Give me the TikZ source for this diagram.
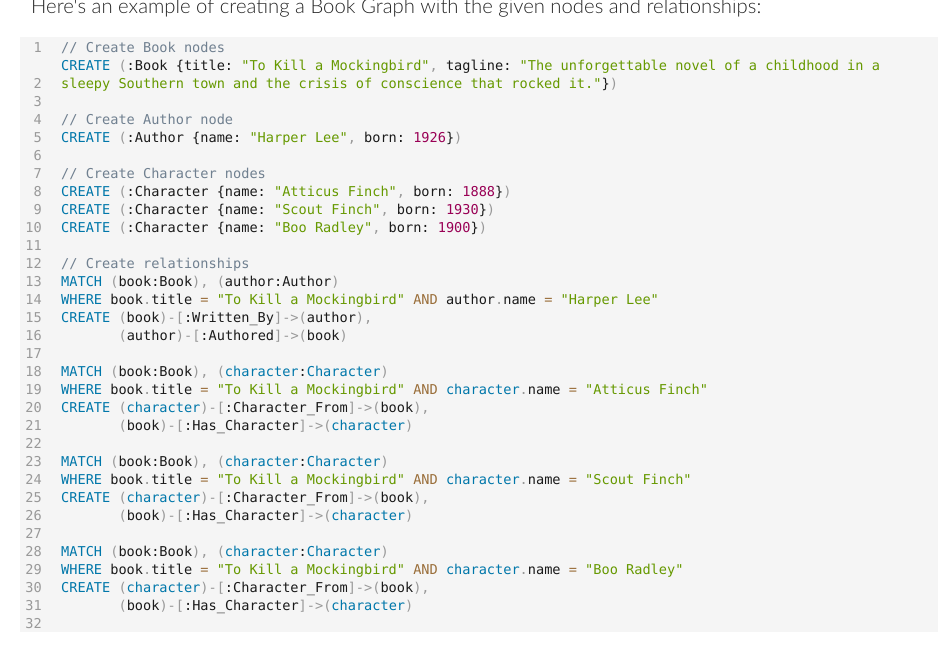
\documentclass[tikz,border=0pt]{standalone}
\usepackage{fontspec}
\setmonofont{DejaVu Sans Mono}
\newfontfamily\titlefont{Lato Light}
\definecolor{kw}{HTML}{0077AA}
\definecolor{cm}{HTML}{708090}
\definecolor{st}{HTML}{669900}
\definecolor{nm}{HTML}{990055}
\definecolor{pn}{HTML}{999999}
\definecolor{op}{HTML}{9A6E3A}
\definecolor{tx}{HTML}{1A1A1A}
\definecolor{ln}{HTML}{999999}
\definecolor{bgc}{HTML}{F5F5F5}
\newcommand\K[1]{\textcolor{kw}{#1}}
\newcommand\Cm[1]{\textcolor{cm}{#1}}
\newcommand\St[1]{\textcolor{st}{#1}}
\newcommand\Nm[1]{\textcolor{nm}{#1}}
\newcommand\Pn[1]{\textcolor{pn}{#1}}
\newcommand\Op[1]{\textcolor{op}{#1}}
\begin{document}
\begin{tikzpicture}[x=1pt,y=-1pt,
  code/.style={anchor=mid west,inner sep=0pt,font=\ttfamily\fontsize{13.6}{16}\selectfont,text=tx},
  lnum/.style={anchor=mid east,inner sep=0pt,font=\ttfamily\fontsize{13.6}{16}\selectfont,text=ln}]
\useasboundingbox (0,0) rectangle (938,657);
\fill[bgc] (20,37) rectangle (938,632);
\node[anchor=base west,inner sep=0pt,text=black!85,font=\titlefont\fontsize{20.3}{22}\selectfont] (title) at (31,13) {Here's an example of creating a Book Graph with the given nodes and relationships:};
\begin{scope}[yshift=-3pt]
\foreach \n/\y in {1/47,2/83,3/101,4/119,5/137,6/155,7/173,8/191,9/209,10/227,11/245,12/263,13/281,14/299,15/317,16/335,17/353,18/371,19/389,20/407,21/425,22/443,23/461,24/479,25/497,26/515,27/533,28/551,29/569,30/587,31/605,32/623}
  \node[lnum] (n\n) at (42,\y) {\n};
\node[code] (c1) at (61,47) {\Cm{// Create Book nodes}};
\node[code] (c1b) at (61,65) {\K{CREATE} \Pn{(}:Book \{title: \St{"To Kill a Mockingbird"}\Pn{,} tagline: \St{"The unforgettable novel of a childhood in a}};
\node[code] (c2) at (61,83) {\St{sleepy Southern town and the crisis of conscience that rocked it."}\}\Pn{)}};
\node[code] (c4) at (61,119) {\Cm{// Create Author node}};
\node[code] (c5) at (61,137) {\K{CREATE} \Pn{(}:Author \{name: \St{"Harper Lee"}\Pn{,} born: \Nm{1926}\}\Pn{)}};
\node[code] (c7) at (61,173) {\Cm{// Create Character nodes}};
\node[code] (c8) at (61,191) {\K{CREATE} \Pn{(}:Character \{name: \St{"Atticus Finch"}\Pn{,} born: \Nm{1888}\}\Pn{)}};
\node[code] (c9) at (61,209) {\K{CREATE} \Pn{(}:Character \{name: \St{"Scout Finch"}\Pn{,} born: \Nm{1930}\}\Pn{)}};
\node[code] (c10) at (61,227) {\K{CREATE} \Pn{(}:Character \{name: \St{"Boo Radley"}\Pn{,} born: \Nm{1900}\}\Pn{)}};
\node[code] (c12) at (61,263) {\Cm{// Create relationships}};
\node[code] (c13) at (61,281) {\K{MATCH} \Pn{(}book:Book\Pn{),} \Pn{(}author:Author\Pn{)}};
\node[code] (c14) at (61,299) {\K{WHERE} book\Pn{.}title \Op{=} \St{"To Kill a Mockingbird"} \Op{AND} author\Pn{.}name \Op{=} \St{"Harper Lee"}};
\node[code] (c15) at (61,317) {\K{CREATE} \Pn{(}book\Pn{)-[}:Written\_By\Pn{]->(}author\Pn{),}};
\node[code] (c16) at (118.4,335) {\Pn{(}author\Pn{)-[}:Authored\Pn{]->(}book\Pn{)}};
\foreach \b/\nm in {0/Atticus Finch,90/Scout Finch,180/Boo Radley}{
  \node[code] at (61,371+\b) {\K{MATCH} \Pn{(}book:Book\Pn{),} \Pn{(}\K{character}:\K{Character}\Pn{)}};
  \node[code] at (61,389+\b) {\K{WHERE} book\Pn{.}title \Op{=} \St{"To Kill a Mockingbird"} \Op{AND} \K{character}\Pn{.}name \Op{=} \St{"\nm"}};
  \node[code] at (61,407+\b) {\K{CREATE} \Pn{(}\K{character}\Pn{)-[}:Character\_From\Pn{]->(}book\Pn{),}};
  \node[code] at (118.4,425+\b) {\Pn{(}book\Pn{)-[}:Has\_Character\Pn{]->(}\K{character}\Pn{)}};
}
\end{scope}
\end{tikzpicture}
\end{document}
